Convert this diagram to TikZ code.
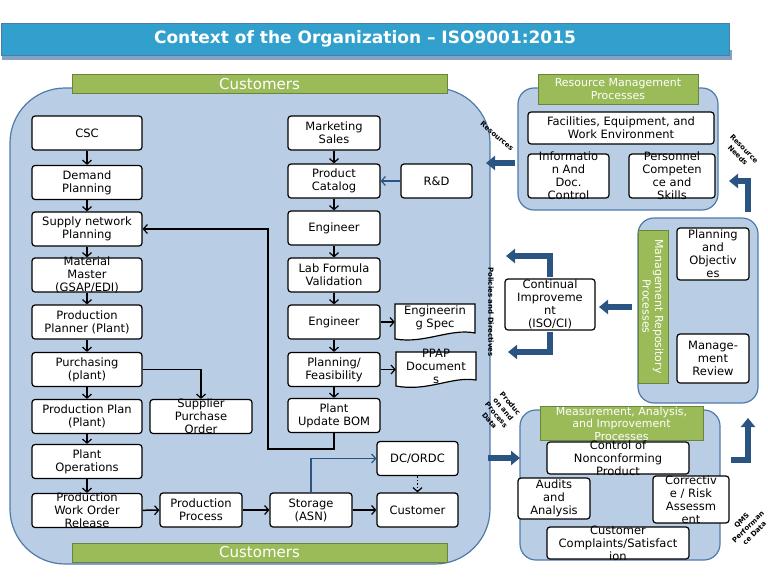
\documentclass[tikz,border=0pt]{standalone}
\usepackage{fontspec}
\setmainfont{DejaVu Sans}
\usetikzlibrary{arrows.meta}
\definecolor{pane}{HTML}{B9CDE5}
\definecolor{paneb}{HTML}{4F7BAA}
\definecolor{grn}{HTML}{9BBB59}
\definecolor{ttl}{HTML}{31A0CC}
\definecolor{darr}{HTML}{2A5583}
\tikzset{
  box/.style={draw=black,line width=1.2pt,fill=white,rounded corners=3pt,inner sep=0pt},
  txt/.style={align=center,font=\fontsize{11.5}{13}\selectfont,inner sep=0pt},
  pane/.style={draw=paneb,line width=1.2pt,fill=pane},
  gbar/.style={fill=grn,draw=grn!70!black,line width=0.6pt,text=white,inner sep=0pt,font=\fontsize{11}{12.5}\selectfont,align=center},
  con/.style={line width=1.5pt,-{Straight Barb[length=4pt,width=9pt,line width=1.2pt]}},
  big/.style={darr,line width=6pt,-{Triangle[length=9pt,width=14pt]}},
  tiny/.style={font=\bfseries\fontsize{7}{9}\selectfont,align=center,inner sep=0pt}
}
\newcommand\bx[6]{\node[box,minimum width=#4pt,minimum height=#5pt] (#1) at (#2,#3) {};
  \node[txt] at (#1.center) {#6};}
\begin{document}
\begin{tikzpicture}[x=1pt,y=-1pt]
\useasboundingbox (0,0) rectangle (768,576);
% title
\fill[paneb!70] (2,50) rectangle (732,60);
\node[fill=ttl,draw=paneb,line width=0.8pt,minimum width=728pt,minimum height=32pt,inner sep=0pt,text=white,font=\bfseries\fontsize{17}{19}\selectfont] (title) at (365,39) {Context of the Organization -- ISO9001:2015};
% main pane
\draw[pane,rounded corners=55pt] (10,88) rectangle (490,564);
\node[gbar,minimum width=375pt,minimum height=19pt,font=\fontsize{15}{16}\selectfont] (custtop) at (259.5,84) {Customers};
\node[gbar,minimum width=375pt,minimum height=19pt,font=\fontsize{15}{16}\selectfont] (custbot) at (259.5,552.5) {Customers};
% left column
\bx{csc}{87}{133}{110}{34}{CSC}
\bx{dem}{87}{182.5}{110}{34}{Demand\\Planning}
\bx{sup}{87}{229}{110}{34}{Supply network\\Planning}
\bx{mat}{87}{275}{110}{34}{Material\\Master\\(GSAP/EDI)}
\bx{ppl}{87}{322}{110}{34}{Production\\Planner (Plant)}
\bx{pur}{87}{369.5}{110}{34}{Purchasing\\(plant)}
\bx{pplan}{87}{416.5}{110}{34}{Production Plan\\(Plant)}
\bx{pops}{87}{461.5}{110}{34}{Plant\\Operations}
\bx{pwo}{87}{510.5}{110}{34}{Production\\Work Order\\Release}
\bx{spo}{201}{416.5}{102}{34}{Supplier\\Purchase\\Order}
\bx{pproc}{201}{510}{82}{34}{Production\\Process}
\bx{stor}{311}{510}{82}{34}{Storage\\(ASN)}
\bx{cust}{417.5}{510}{81}{34}{Customer}
\bx{dc}{417.5}{458.5}{81}{34}{DC/ORDC}
% right column
\bx{mkt}{334}{133}{92}{34}{Marketing\\Sales}
\bx{cat}{334}{181}{92}{34}{Product\\Catalog}
\bx{eng1}{334}{228}{92}{34}{Engineer}
\bx{lab}{334}{275}{92}{34}{Lab Formula\\Validation}
\bx{eng2}{334}{322}{92}{34}{Engineer}
\bx{plan}{334}{369.5}{92}{34}{Planning/\\Feasibility}
\bx{bom}{334}{415.5}{92}{34}{Plant\\Update BOM}
\bx{rd}{436.5}{181}{71}{34}{R\&D}
% documents
\draw[fill=white,line width=1.2pt] (395,304) -- (475,304) -- (475,333) .. controls (450,328) and (425,344) .. (395,339) -- cycle;
\node[txt,minimum width=80pt,minimum height=30pt] (espec) at (435,318) {Engineerin\\g Spec};
\draw[fill=white,line width=1.2pt] (396,352) -- (476,352) -- (476,380) .. controls (452,376) and (428,392) .. (396,386) -- cycle;
\node[txt,minimum width=80pt,minimum height=30pt] (ppap) at (436,366) {PPAP\\Document\\s};
% connectors
\draw[con] (csc) -- (dem);
\draw[con] (dem) -- (sup);
\draw[con] (sup) -- (mat);
\draw[con] (mat) -- (ppl);
\draw[con] (ppl) -- (pur);
\draw[con] (pur) -- (pplan);
\draw[con] (pplan) -- (pops);
\draw[con] (pops) -- (pwo);
\draw[con] (pwo) -- (pproc);
\draw[con] (pproc) -- (stor);
\draw[con] (stor) -- (cust);
\draw[con,dotted] (dc) -- (cust);
\draw[con] (pur.east) -| (spo.north);
\draw[con] (bom.south) -- ++(0,16) -| (268,229) -- (sup.east);
\draw[con,darr,line width=1.5pt] (stor.north) |- (dc.west);
\draw[con] (mkt) -- (cat);
\draw[con,darr] (rd) -- (cat);
\draw[con] (cat) -- (eng1);
\draw[con] (eng1) -- (lab);
\draw[con] (lab) -- (eng2);
\draw[con] (eng2) -- (eng2.east -| espec.west);
\draw[con] (eng2) -- (plan);
\draw[con] (plan) -- (plan.east -| ppap.west);
\draw[con] (plan) -- (bom);
% resource management
\draw[pane,rounded corners=16pt] (518,88) rectangle (718,210);
\node[gbar,minimum width=160pt,minimum height=30pt] (rmp) at (618,89) {Resource Management\\Processes};
\bx{fac}{621}{128}{186}{32}{Facilities, Equipment, and\\Work Environment}
\bx{info}{568.5}{176}{81}{44}{Informatio\\n And\\Doc.\\Control}
\bx{pers}{672}{176}{86}{44}{Personnel\\Competen\\ce and\\Skills}
% management repository
\draw[pane,rounded corners=16pt] (638,218) rectangle (758,403);
\node[gbar,minimum width=153pt,minimum height=30pt,rotate=-90] (mrp) at (653,306.5) {Management Repository\\Processes};
\bx{pobj}{713}{254}{72}{52}{Planning\\and\\Objectiv\\es}
\bx{mrev}{713}{358.5}{72}{49}{Manage-\\ment\\Review}
\bx{ci}{550}{304.5}{90}{51}{Continual\\Improveme\\nt\\(ISO/CI)}
% measurement
\draw[pane,rounded corners=16pt] (520,410) rectangle (720,560);
\node[gbar,minimum width=163pt,minimum height=27pt] (map) at (621.5,423.5) {Measurement, Analysis,\\and Improvement\\Processes};
\bx{cnp}{618}{458}{142}{32}{Control of\\Nonconforming\\Product}
\bx{aud}{554}{498.5}{72}{41}{Audits\\and\\Analysis}
\bx{cor}{691}{499.5}{76}{47}{Correctiv\\e / Risk\\Assessm\\ent}
\bx{ccs}{618}{543}{142}{32}{Customer\\Complaints/Satisfact\\ion}
% big arrows
\coordinate (rs) at (515,163);
\draw[big] (rs) -- (486,163);
\coordinate (rn) at (748,212);
\draw[big] (rn) -- (748,181) -- (729,181);
\coordinate (mr) at (632,307);
\draw[big] (mr) -- (599,307);
\draw[big] (ci.north) ++(0,-1) -- (550,256) -- (506,256);
\draw[big] (ci.south) ++(0,1) -- (550,352) -- (508,352);
\coordinate (pd) at (488,458);
\draw[big] (pd) -- (520,458);
\coordinate (qm) at (731,460);
\draw[big] (qm) -- (748,460) -- (748,418);
% rotated labels
\node[tiny,rotate=-40] (lres) at (497,136) {Resources};
\node[tiny,rotate=-45] (lrn) at (741,152) {Resource\\Needs};
\node[tiny,rotate=-90] (lpol) at (491,312) {Policies and Directives};
\node[tiny,rotate=-50] (lpd) at (500,412) {Produc\\on and\\Process\\Data};
\node[tiny,rotate=45] (lqms) at (748,527) {QMS\\Performan\\ce Data};
\end{tikzpicture}
\end{document}
